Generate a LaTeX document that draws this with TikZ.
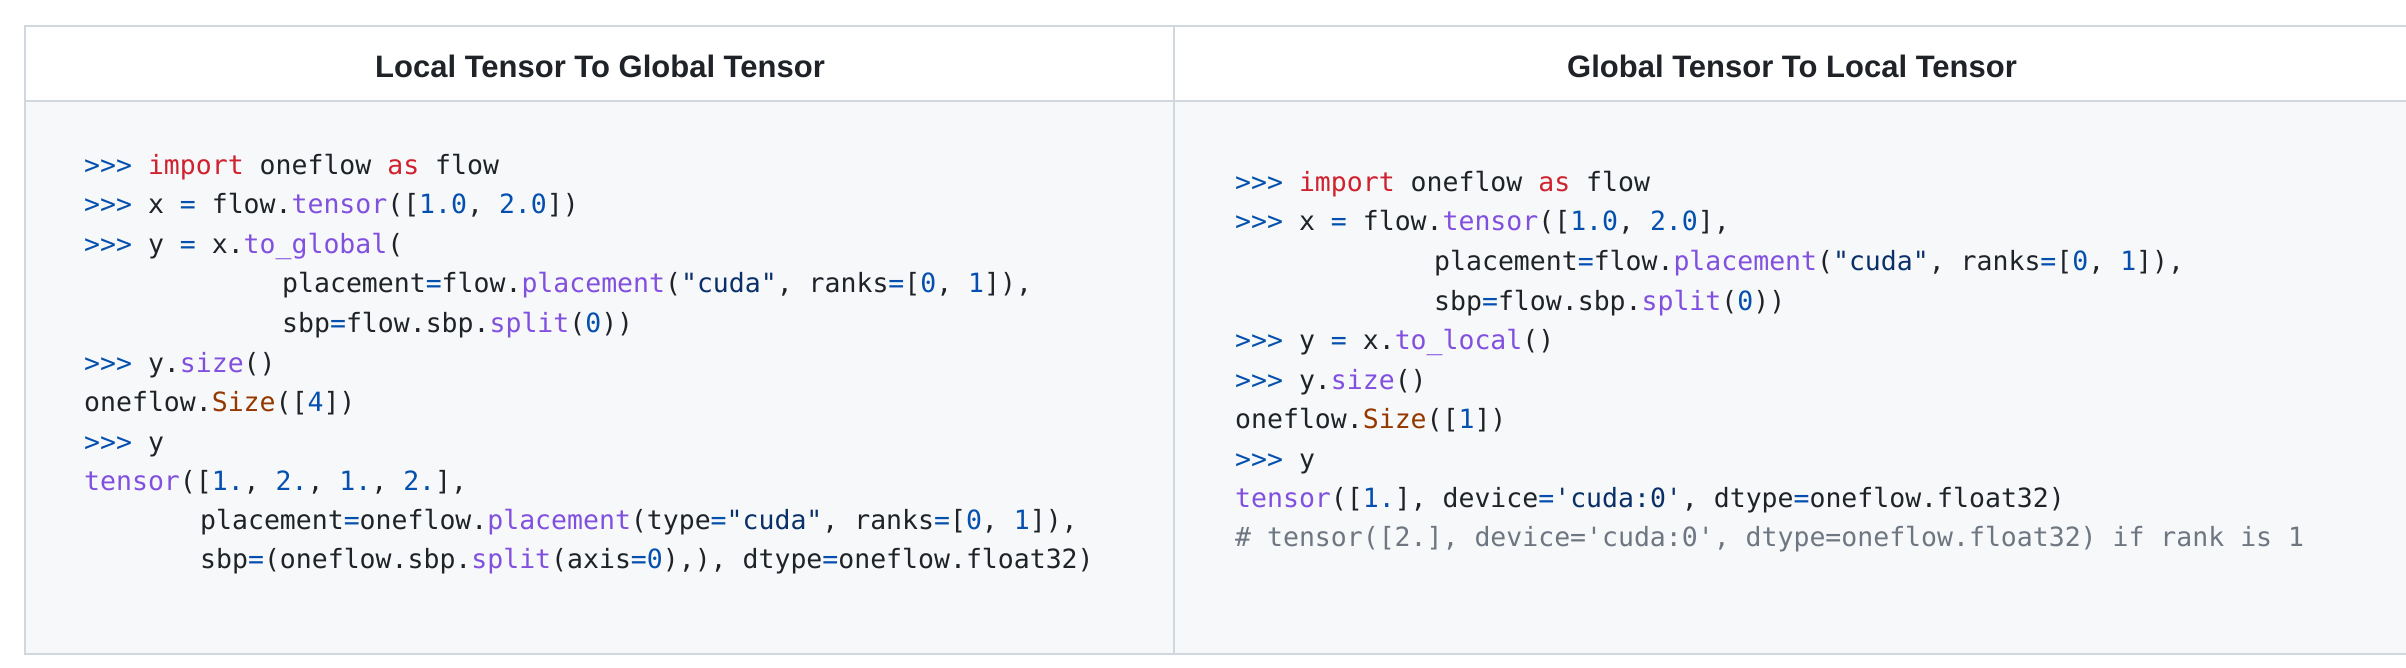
\documentclass[tikz,border=0pt]{standalone}
\usepackage{fontspec}
\setmainfont{Liberation Sans}
\setmonofont{DejaVu Sans Mono}
\definecolor{bd}{HTML}{D0D7DE}
\definecolor{bgc}{HTML}{F6F8FA}
\definecolor{tx}{HTML}{1F2328}
\definecolor{cP}{HTML}{0550AE}
\definecolor{cK}{HTML}{CF222E}
\definecolor{cF}{HTML}{8250DF}
\definecolor{cS}{HTML}{0A3069}
\definecolor{cB}{HTML}{953800}
\definecolor{cC}{HTML}{6E7781}
\newcommand\kP[1]{\textcolor{cP}{#1}}
\newcommand\kK[1]{\textcolor{cK}{#1}}
\newcommand\kF[1]{\textcolor{cF}{#1}}
\newcommand\kS[1]{\textcolor{cS}{#1}}
\newcommand\kB[1]{\textcolor{cB}{#1}}
\newcommand\kC[1]{\textcolor{cC}{#1}}
\begin{document}
\begin{tikzpicture}[x=1pt,y=-1pt,
  code/.style={anchor=base west,inner sep=0pt,text=tx,font=\fontsize{26.5}{30}\ttfamily},
  head/.style={inner sep=0pt,text=tx,font=\fontsize{31}{36}\selectfont\bfseries}]
\useasboundingbox (0,0) rectangle (2406,668);
\fill[white] (0,0) rectangle (2406,668);
\fill[bgc] (25,101) rectangle (2406,654);
\draw[bd,line width=2pt] (2406,26) -- (25,26) -- (25,654) -- (2406,654);
\draw[bd,line width=2pt] (25,101) -- (2406,101);
\draw[bd,line width=1.5pt] (1174,26) -- (1174,654);
\node[head] (h1) at (600,66) {Local Tensor To Global Tensor};
\node[head] (h2) at (1792,66) {Global Tensor To Local Tensor};
% left panel
\node[code] (l1) at (84,175) {\kP{>>>} \kK{import} oneflow \kK{as} flow};
\node[code] (l2) at (84,214) {\kP{>>>} x \kP{=} flow.\kF{tensor}([\kP{1.0}, \kP{2.0}])};
\node[code] (l3) at (84,254) {\kP{>>>} y \kP{=} x.\kF{to\_global}(};
\node[code] (l4) at (282,293) {placement\kP{=}flow.\kF{placement}(\kS{"cuda"}, ranks\kP{=}[\kP{0}, \kP{1}]),};
\node[code] (l5) at (282,332) {sbp\kP{=}flow.sbp.\kF{split}(\kP{0}))};
\node[code] (l6) at (84,372) {\kP{>>>} y.\kF{size}()};
\node[code] (l7) at (84,411) {oneflow.\kB{Size}([\kP{4}])};
\node[code] (l8) at (84,451) {\kP{>>>} y};
\node[code] (l9) at (84,490) {\kF{tensor}([\kP{1.}, \kP{2.}, \kP{1.}, \kP{2.}],};
\node[code] (l10) at (200,529) {placement\kP{=}oneflow.\kF{placement}(type\kP{=}\kS{"cuda"}, ranks\kP{=}[\kP{0}, \kP{1}]),};
\node[code] (l11) at (200,568) {sbp\kP{=}(oneflow.sbp.\kF{split}(axis\kP{=}\kP{0}),), dtype\kP{=}oneflow.float32)};
% right panel
\node[code] (r1) at (1235,192) {\kP{>>>} \kK{import} oneflow \kK{as} flow};
\node[code] (r2) at (1235,231) {\kP{>>>} x \kP{=} flow.\kF{tensor}([\kP{1.0}, \kP{2.0}],};
\node[code] (r3) at (1434,271) {placement\kP{=}flow.\kF{placement}(\kS{"cuda"}, ranks\kP{=}[\kP{0}, \kP{1}]),};
\node[code] (r4) at (1434,310) {sbp\kP{=}flow.sbp.\kF{split}(\kP{0}))};
\node[code] (r5) at (1235,349) {\kP{>>>} y \kP{=} x.\kF{to\_local}()};
\node[code] (r6) at (1235,389) {\kP{>>>} y.\kF{size}()};
\node[code] (r7) at (1235,428) {oneflow.\kB{Size}([\kP{1}])};
\node[code] (r8) at (1235,468) {\kP{>>>} y};
\node[code] (r9) at (1235,507) {\kF{tensor}([\kP{1.}], device\kP{=}\kS{'cuda:0'}, dtype\kP{=}oneflow.float32)};
\node[code] (r10) at (1235,546) {\kC{\# tensor([2.], device='cuda:0', dtype=oneflow.float32) if rank is 1}};
\end{tikzpicture}
\end{document}
